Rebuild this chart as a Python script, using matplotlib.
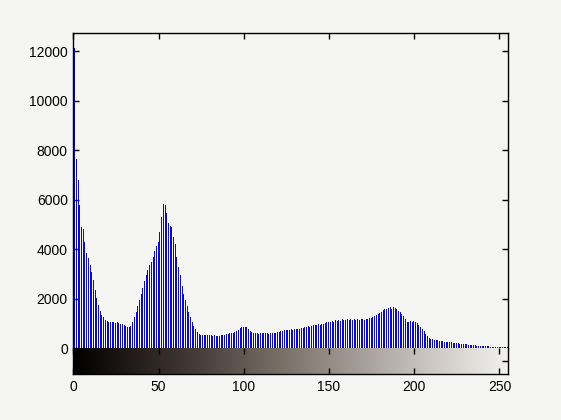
import numpy as np
import matplotlib
matplotlib.use("Agg")
import matplotlib.pyplot as plt
from matplotlib.colors import LinearSegmentedColormap

# histogram counts, gray levels 0..255
counts = [
    12150, 7650, 6800, 5800, 4900, 4800, 4300, 3850, 3650, 3350, 3100, 2750, 2350, 2050, 1750, 1500,
    1350, 1250, 1150, 1100, 1080, 1060, 1050, 1070, 1040, 1050, 1020, 980, 1000, 950, 920, 880,
    850, 900, 1050, 1250, 1450, 1700, 1950, 2200, 2450, 2700, 2950, 3150, 3350, 3500, 3700, 3950,
    4150, 4300, 4700, 5300, 5850, 5800, 5450, 5050, 4950, 4900, 4500, 4200, 3700, 3300, 2950, 2500,
    2200, 1950, 1700, 1450, 1250, 1080, 900, 780, 650, 580, 550, 540, 530, 550, 520, 540,
    530, 510, 520, 500, 510, 490, 520, 530, 540, 560, 580, 600, 610, 600, 640, 680,
    750, 820, 860, 880, 880, 850, 760, 680, 640, 620, 600, 610, 590, 620, 600, 610,
    600, 620, 590, 610, 620, 600, 630, 640, 660, 680, 700, 720, 740, 730, 750, 760,
    740, 770, 760, 780, 800, 820, 840, 870, 880, 900, 880, 920, 940, 960, 930, 980,
    950, 1000, 970, 1020, 1050, 1080, 1060, 1120, 1080, 1140, 1100, 1150, 1120, 1170, 1140, 1160,
    1180, 1130, 1170, 1150, 1190, 1160, 1180, 1140, 1170, 1200, 1160, 1190, 1170, 1210, 1230, 1250,
    1300, 1350, 1400, 1420, 1480, 1550, 1600, 1580, 1620, 1650, 1600, 1680, 1640, 1600, 1520, 1480,
    1400, 1300, 1200, 1080, 1050, 1100, 1080, 1100, 1050, 1020, 950, 880, 780, 680, 580, 480,
    420, 380, 360, 340, 330, 320, 310, 300, 280, 270, 260, 250, 250, 240, 230, 220,
    210, 200, 190, 180, 170, 165, 160, 150, 140, 130, 125, 120, 110, 105, 100, 95,
    90, 85, 80, 75, 70, 70, 65, 60, 55, 55, 50, 50, 45, 45, 40, 40,
]
levels = np.arange(len(counts))
yticks = [0, 2000, 4000, 6000, 8000, 10000, 12000]
xticks = [0, 50, 100, 150, 200, 250]

bg = "#f5f5f3"
fig = plt.figure(figsize=(5.61, 4.20), dpi=100, facecolor=bg)

# histogram axes
ax = fig.add_axes([0.1307, 0.1707, 0.7748, 0.7514], facecolor=bg)
ax.vlines(levels + 0.5, 0, counts, color="#0a0ac8", linewidth=0.6,
          antialiased=False)
ax.set_xlim(0, 255)
ax.set_ylim(0, 12750)
ax.set_yticks(yticks)
ax.set_xticks(xticks)
ax.tick_params(direction="in", length=4, width=1, labelsize=10,
               left=True, right=True, top=True, bottom=False,
               labelbottom=False, pad=4)
ax.spines["bottom"].set_visible(False)
for s in ["left", "right", "top"]:
    ax.spines[s].set_linewidth(1)

# gray level bar underneath
gray = LinearSegmentedColormap.from_list(
    "warmgray", ["#000000", "#3e3430", "#7e756d", "#bbb5b0", "#f2f1ee"])
cax = fig.add_axes([0.1307, 0.1088, 0.7748, 0.0619])
cax.imshow(levels[np.newaxis, :], cmap=gray, aspect="auto",
           extent=[0, 255, 0, 1])
cax.set_xlim(0, 255)
cax.set_ylim(0, 1)
cax.set_xticks(xticks)
cax.set_yticks([0.5])
cax.set_yticklabels([])
cax.tick_params(direction="in", length=4, width=1, labelsize=10,
                top=True, bottom=True, left=True, right=True, pad=4)
cax.spines["top"].set_visible(False)
for s in ["left", "right", "bottom"]:
    cax.spines[s].set_linewidth(1)

for t in ax.get_yticklabels() + cax.get_xticklabels():
    t.set_fontfamily("Liberation Sans")

fig.savefig("out.png", dpi=100, facecolor=bg)
